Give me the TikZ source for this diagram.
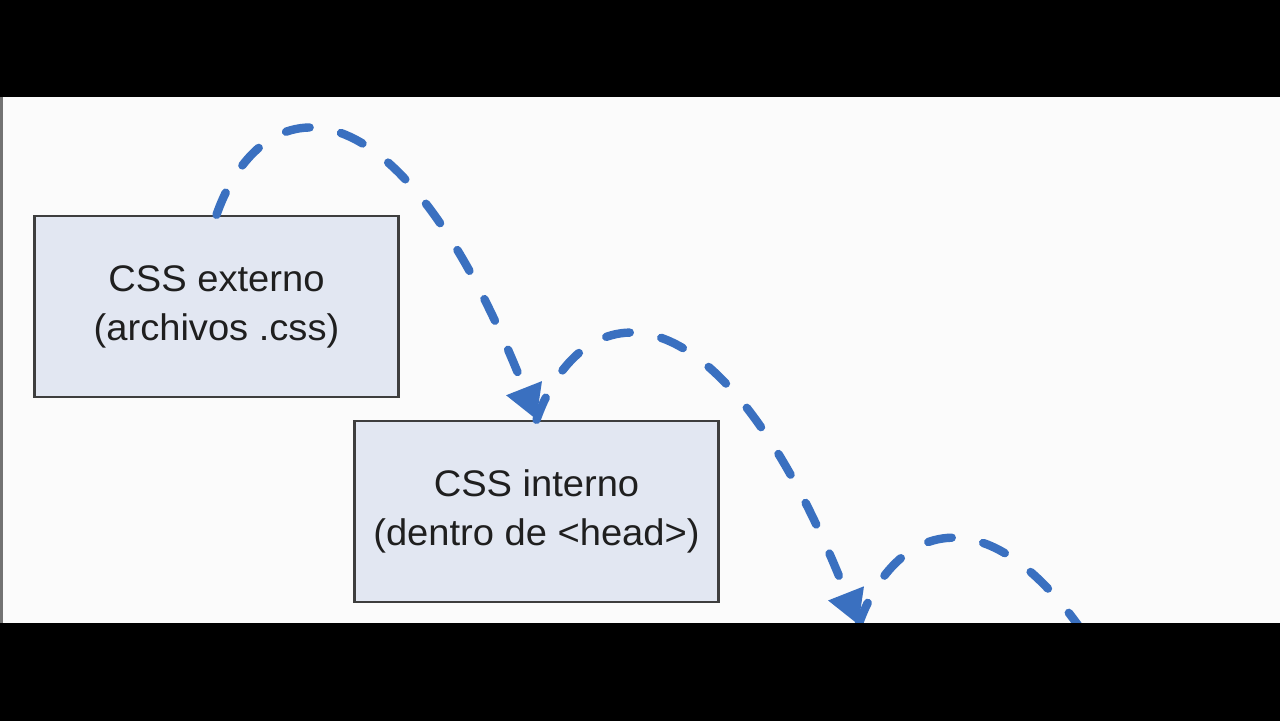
\documentclass[tikz,border=0pt]{standalone}
\usepackage{fontspec}
\setmainfont[FakeStretch=1.03]{Liberation Sans}
\usetikzlibrary{positioning}
\usetikzlibrary{arrows.meta}
\definecolor{arcblue}{RGB}{58,112,192}
\definecolor{boxfill}{RGB}{226,231,242}
\definecolor{boxline}{RGB}{62,62,62}
\definecolor{paper}{RGB}{251,251,251}

\begin{document}
\begin{tikzpicture}[x=0.5pt,y=-0.5pt,
	cssbox/.style={draw=boxline, line width=1.2pt, fill=boxfill, text=black!88,
		minimum width=182pt, minimum height=90.5pt, align=center,
		font=\fontsize{18.5}{24.5}\selectfont},
	hop/.style={arcblue, line width=4.2pt, line cap=round,
		dash pattern=on 12pt off 16pt, -{Triangle[length=17pt,width=18pt]}}]
			\useasboundingbox (0,0) rectangle (1280,720);

			% Page
			\fill[paper] (0,0) rectangle (1280,720);
			\fill[black!55] (0,97) rectangle (3,623);

			% Boxes
			\node[cssbox] (ext) at (216.5,306.5) {CSS externo\\(archivos .css)};
			\node[cssbox] (int) at (536.5,511.5) {CSS interno\\(dentro de <head>)};
			\coordinate (inl) at (858.5,625);
			\coordinate (next) at (1180.5,830);

			% Arcs
			\draw[hop] (ext.north) .. controls +(45,-128) and +(-140,-355) .. (int.north);
			\draw[hop] (int.north) .. controls +(45,-128) and +(-140,-355) .. (inl);
			\draw[hop] (inl) .. controls +(45,-128) and +(-140,-355) .. (next);

			% Letterbox
			\fill[black] (-10,-10) rectangle (1290,97);
			\fill[black] (-10,623) rectangle (1290,900);
		\end{tikzpicture}
\end{document}
